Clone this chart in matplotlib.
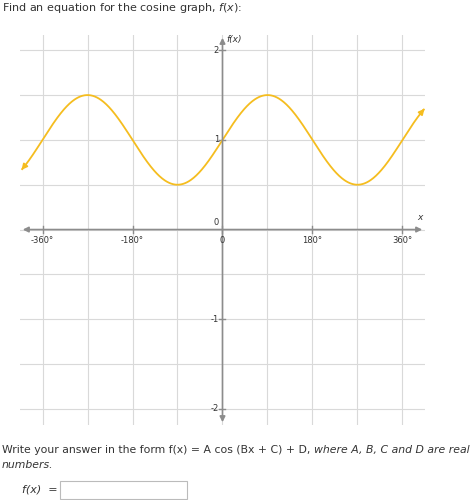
import numpy as np
import matplotlib
matplotlib.use("Agg")
import matplotlib.pyplot as plt
from matplotlib.patches import Rectangle

# curve parameters
amplitude = [0.5]
midline = [1.0]
period_deg = [360.0]
phase_deg = [90.0]  # max at x = 90
x_range = [-402, 404]
x_ticks = [-360, -180, 0, 180, 360]
x_tick_labels = ["-360°", "-180°", "0", "180°", "360°"]
y_ticks = [-2, -1, 1, 2]
y_tick_labels = ["-2", "-1", "1", "2"]

fig = plt.figure(figsize=(4.7, 5.0), dpi=100)
ax = fig.add_axes([20/470, 1-425/500, 405/470, 390/500])
ax.set_xlim(-405, 405)
ax.set_ylim(-2.18, 2.17)
for s in ax.spines.values():
    s.set_visible(False)
ax.set_xticks([]); ax.set_yticks([])
for gx in np.arange(-360, 361, 90):
    ax.axvline(gx, color="#d9d9d9", lw=0.8, zorder=0)
for gy in np.arange(-2, 2.01, 0.5):
    ax.axhline(gy, color="#d9d9d9", lw=0.8, zorder=0)

ac = "#8c8c8c"
ax.annotate("", xy=(405, 0), xytext=(-405, 0), arrowprops=dict(arrowstyle="<|-|>", color=ac, lw=1.2, mutation_scale=8))
ax.annotate("", xy=(0, 2.17), xytext=(0, -2.18), arrowprops=dict(arrowstyle="<|-|>", color=ac, lw=1.2, mutation_scale=8))
for t, l in zip(x_ticks, x_tick_labels):
    ax.plot([t, t], [-0.04, 0.04], color=ac, lw=1)
    ax.text(t, -0.07, l, ha="center", va="top", fontsize=6, color="#333333")
for t, l in zip(y_ticks, y_tick_labels):
    ax.plot([-6, 6], [t, t], color=ac, lw=1)
    ax.text(-7, t, l, ha="right", va="center", fontsize=6, color="#333333")
ax.text(-7, 0.03, "0", ha="right", va="bottom", fontsize=6, color="#333333")
ax.text(8, 2.17, "f(x)", ha="left", va="top", fontsize=6.5, style="italic", color="#333333")
ax.text(400, 0.08, "x", ha="right", va="bottom", fontsize=6.5, style="italic", color="#333333")

x = np.linspace(x_range[0], x_range[1], 600)
y = amplitude[0] * np.cos(2*np.pi/period_deg[0] * (x - phase_deg[0])) + midline[0]
col = "#f5bd1f"
ax.plot(x[1:-1], y[1:-1], color=col, lw=1.3)
ax.annotate("", xy=(x[-1], y[-1]), xytext=(x[-6], y[-6]), arrowprops=dict(arrowstyle="-|>", color=col, lw=1.3, mutation_scale=8))
ax.annotate("", xy=(x[0], y[0]), xytext=(x[5], y[5]), arrowprops=dict(arrowstyle="-|>", color=col, lw=1.3, mutation_scale=8))

fs = 7.8
fig.text(2/470, 1-8/500, "Find an equation for the cosine graph, $f(x)$:", fontsize=8, va="center", color="#333333")
t1 = fig.text(2/470, 1-450/500, "Write your answer in the form f(x) = A cos (Bx + C) + D, ", fontsize=fs, va="center", color="#333333")
fig.canvas.draw()
bb = t1.get_window_extent(fig.canvas.get_renderer())
fig.text(bb.x1/470, 1-450/500, "where A, B, C and D are real", fontsize=fs, va="center", style="italic", color="#333333")
fig.text(2/470, 1-465/500, "numbers.", fontsize=fs, va="center", style="italic", color="#333333")
fig.text(22/470, 1-490/500, "f(x)  =", fontsize=8, va="center", style="italic", color="#333333")
fig.add_artist(Rectangle((60/470, 1-499/500), 127/470, 18/500, transform=fig.transFigure, fill=False, ec="#bbbbbb", lw=0.8))
fig.savefig("out.png", dpi=100)
